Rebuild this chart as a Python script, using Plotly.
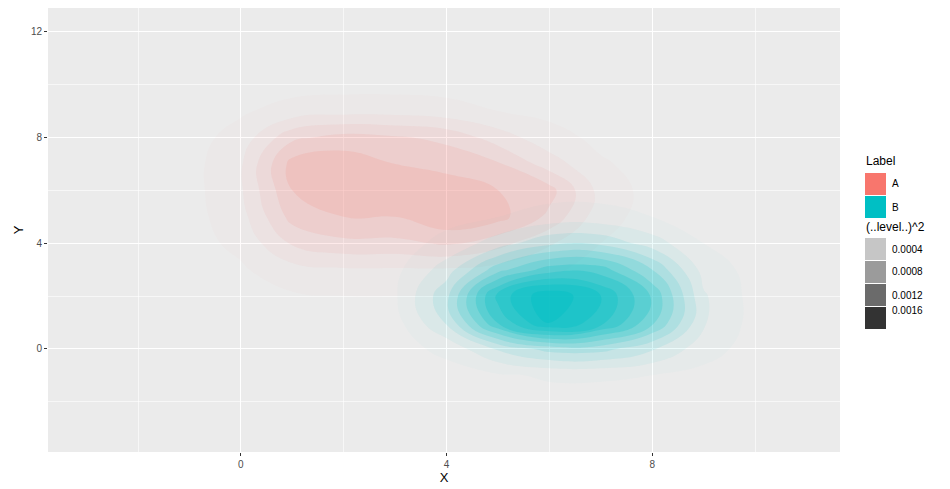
import plotly.graph_objs as go

# coarse density grid
grid_x = [-1, 0, 1, 2, 3, 4, 5, 6, 7, 8, 9, 10]
grid_y = [-2, -1, 0, 1, 2, 3, 4, 5, 6, 7, 8, 9, 10]
zero = [0] * 12

dens_a = [zero, zero, zero, zero,
          [0, 0, .02, .03, .03, .03, .02, .01, 0, 0, 0, 0],
          [0, .02, .08, .10, .10, .10, .08, .04, .01, 0, 0, 0],
          [0, .05, .20, .25, .25, .28, .22, .12, .03, 0, 0, 0],
          [0, .08, .30, .35, .35, .42, .38, .25, .06, 0, 0, 0],
          [0, .10, .35, .42, .38, .40, .35, .30, .08, 0, 0, 0],
          [0, .10, .38, .40, .35, .32, .28, .15, .04, 0, 0, 0],
          [0, .06, .25, .30, .28, .25, .15, .06, .01, 0, 0, 0],
          [0, .02, .06, .08, .08, .06, .03, .01, 0, 0, 0, 0],
          zero]

dens_b = [zero,
          [0, 0, 0, 0, 0, 0, .02, .04, .04, .03, .01, 0],
          [0, 0, 0, 0, 0, .05, .20, .30, .30, .20, .06, 0],
          [0, 0, 0, 0, 0, .20, .60, .85, .70, .45, .12, 0],
          [0, 0, 0, 0, .02, .25, .70, .90, .75, .50, .12, 0],
          [0, 0, 0, 0, .01, .15, .40, .55, .55, .35, .08, 0],
          [0, 0, 0, 0, 0, .05, .15, .25, .25, .15, .03, 0],
          [0, 0, 0, 0, 0, .01, .03, .06, .06, .03, 0, 0],
          zero, zero, zero, zero, zero]

labels = ['A', 'B']
label_colors = ['#F8766D', '#00BFC4']
level_labels = ['0.0004', '0.0008', '0.0012', '0.0016']
level_colors = ['#C6C6C6', '#9B9B9B', '#6B6B6B', '#333333']


def dens_trace(z, rgb, top):
    return go.Contour(x=grid_x, y=grid_y, z=z, zmin=0, zmax=1,
                      contours=dict(start=0.03, end=1, size=0.08, coloring='fill'),
                      colorscale=[[0, 'rgba(%s,0)' % rgb], [1, 'rgba(%s,%s)' % (rgb, top)]],
                      line=dict(width=0, smoothing=1.3), showscale=False, hoverinfo='skip')


fig = go.Figure([dens_trace(dens_a, '248,118,109', 0.38), dens_trace(dens_b, '0,191,196', 0.42)])

axis = dict(showgrid=True, gridcolor='white', gridwidth=1.2, zeroline=False, automargin=False,
            ticks='outside', ticklen=3, tickcolor='#333', tickfont=dict(size=10, color='#4D4D4D'),
            minor=dict(showgrid=True, gridcolor='rgba(255,255,255,0.6)', gridwidth=0.6, dtick=4),
            title_font=dict(size=13, color='black'), showline=False)
fig.update_layout(
    width=950, height=489, margin=dict(l=40, r=118, t=0, b=45),
    plot_bgcolor='#EBEBEB', paper_bgcolor='white', showlegend=False,
    font=dict(family='Liberation Sans, Arial'),
    xaxis=dict(axis, range=[-3.75, 11.65], tickvals=[0, 4, 8], title=dict(text='X', standoff=2)),
    yaxis=dict(axis, range=[-3.9, 12.9], tickvals=[0, 4, 8, 12], title=dict(text='Y', standoff=4)),
)
fig.update_xaxes(minor=dict(tick0=2))
fig.update_yaxes(minor=dict(tick0=2))


def px(x):
    return (x - 48) / 792.0


def py_(y):
    return (452 - y) / 444.0


shapes, ann = [], []
ann.append(dict(x=px(864), y=py_(161), text='Label', showarrow=False, xanchor='left',
                font=dict(size=12, color='black')))
for i, (lab, col) in enumerate(zip(labels, label_colors)):
    y0 = 173 + i * 23
    shapes.append(dict(type='rect', xref='paper', yref='paper', x0=px(865), x1=px(886),
                       y0=py_(y0 + 22), y1=py_(y0), fillcolor=col, line=dict(width=0)))
    ann.append(dict(x=px(890), y=py_(y0 + 11), text=lab, showarrow=False, xanchor='left',
                    font=dict(size=10, color='black')))
ann.append(dict(x=px(864), y=py_(227), text='(..level..)^2', showarrow=False, xanchor='left',
                font=dict(size=12, color='black')))
for i, (lab, col) in enumerate(zip(level_labels, level_colors)):
    y0 = 238 + i * 23
    shapes.append(dict(type='rect', xref='paper', yref='paper', x0=px(865), x1=px(886),
                       y0=py_(y0 + 22), y1=py_(y0), fillcolor=col, line=dict(width=0)))
    ann.append(dict(x=px(890), y=py_(y0 + 11), text=lab, showarrow=False, xanchor='left',
                    font=dict(size=10, color='black')))
for a in ann:
    a.update(xref='paper', yref='paper')
fig.update_layout(shapes=shapes, annotations=ann)

fig.write_html("out.html")
